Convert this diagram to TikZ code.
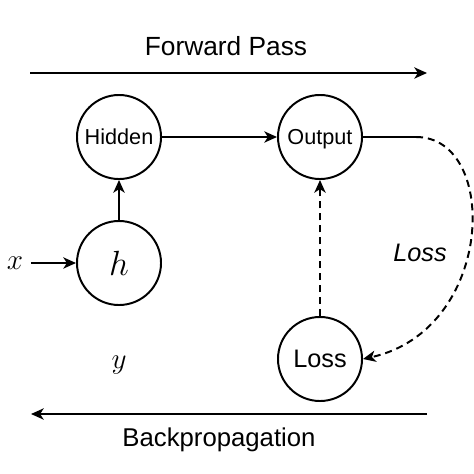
\documentclass[tikz,border=0pt]{standalone}
\usepackage{fontspec}
\setmainfont{Liberation Sans}
\usepackage{amsmath}
\usepackage{tikz}
\usetikzlibrary{arrows.meta}
\usetikzlibrary{positioning}

\begin{document}
\begin{tikzpicture}[x=0.025cm,y=-0.025cm,
    >={Stealth[length=9pt,width=8pt,inset=2.5pt]},line width=1.4pt,
    unit/.style={circle,draw,minimum size=2.1cm,inner sep=0pt,text depth=0pt,
        font=\fontsize{15.4}{18}\selectfont},
    lbl/.style={font=\fontsize{18.7}{22}\selectfont},
    sym/.style={font=\fontsize{20}{24}\selectfont},
    lossdash/.style={dash pattern=on 5pt off 3.5pt}]
    \useasboundingbox (0,0) rectangle (474,474);

    % Draw units
    \node [unit] (hidden) at (119,137) {Hidden};
    \node [unit] (output) at (320,137) {Output};
    \node [unit] (h) at (119,263) {\fontsize{23}{26}\selectfont$h$};
    \node [unit,font=\fontsize{18}{21}\selectfont] (loss) at (320,359) {Loss};

    % inputs and labels
    \node [sym] (x) at (15,263) {$x$};
    \node [sym] (y) at (119,365) {$y$};
    \node [font=\fontsize{18}{21}\selectfont\itshape] (losslbl) at (420,253) {Loss};

    % forward connections
    \draw [->,shorten <=1.5pt] (x) -- (h);
    \draw [->] (h) -- (hidden);
    \draw [->] (hidden) -- (output);

    % loss path
    \coordinate (bend) at (416,137);
    \draw (output) -- (bend);
    \draw [->,lossdash] (bend) .. controls (500,137) and (495,330) .. (loss.east);
    \draw [->,lossdash] (loss) -- (output);

    % pass arrows
    \coordinate (fwdA) at (30,73);
    \coordinate (fwdB) at (427,73);
    \draw [->] (fwdA) -- (fwdB);
    \node [lbl] (fwd) at (226,46) {Forward Pass};
    \coordinate (bwdA) at (427,414);
    \coordinate (bwdB) at (31,414);
    \draw [->] (bwdA) -- (bwdB);
    \node [lbl,font=\fontsize{18.3}{22}\selectfont] (bwd) at (219,440) {Backpropagation};
\end{tikzpicture}
\end{document}
